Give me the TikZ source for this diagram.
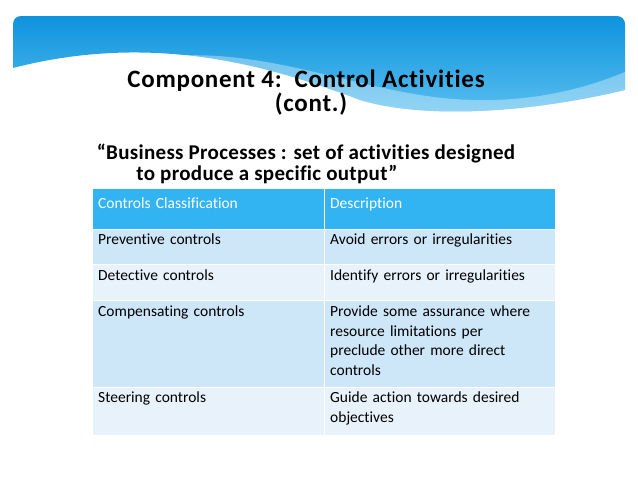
\documentclass[tikz,border=0pt]{standalone}
\usepackage{fontspec}
\setmainfont[Ligatures=NoCommon]{Carlito}
\begin{document}
\begin{tikzpicture}[x=1pt,y=-1pt,
  hdr/.style={fill=hdrblue,draw=white,line width=1pt},
  rowA/.style={fill=rowdark,draw=white,line width=1pt},
  rowB/.style={fill=rowlight,draw=white,line width=1pt},
  cell/.style={anchor=north west,align=left,text width=222pt,font=\fontsize{15.5}{19.5}\selectfont,inner sep=0pt}]
\definecolor{hdrblue}{HTML}{33B4F2}
\definecolor{rowdark}{HTML}{CDE6F8}
\definecolor{rowlight}{HTML}{E7F2FB}
\definecolor{bandtop}{HTML}{0E93DD}
\definecolor{bandbot}{HTML}{5CC0F0}
\useasboundingbox (0,0) rectangle (638,479);
\fill[white] (0,0) rectangle (638,479);
% banner
\shade[top color=bandtop,bottom color=bandbot]
  (13,24) to[out=90,in=180] (21,16) -- (617,16) to[out=0,in=90] (625,24) -- (625,90)
  .. controls (520,115) and (420,118) .. (360,100)
  .. controls (280,70) and (160,30) .. (13,68) -- cycle;
\fill[white,opacity=0.35] (170,56) .. controls (260,50) and (330,80) .. (420,95)
  .. controls (500,108) and (570,95) .. (625,72) -- (625,90)
  .. controls (520,115) and (420,118) .. (360,100) .. controls (300,80) and (240,60) .. (170,56) -- cycle;
% titles
\node[font=\bfseries\fontsize{25}{28}\selectfont\addfontfeatures{LetterSpace=3}] (t1) at (306,81) {Component 4:\ \ Control Activities};
\node[font=\bfseries\fontsize{25}{28}\selectfont\addfontfeatures{LetterSpace=3}] (t2) at (311,104) {(cont.)};
\node[font=\bfseries\fontsize{21}{24}\selectfont\addfontfeatures{LetterSpace=1.5}] (s1) at (306,154) {“Business Processes : set of activities designed};
\node[font=\bfseries\fontsize{21}{24}\selectfont\addfontfeatures{LetterSpace=1.5}] (s2) at (267,175) {to produce a specific output”};
% table
\path[hdr] (92,188) rectangle (324,229); \path[hdr] (324,188) rectangle (555,229);
\path[rowA] (92,229) rectangle (324,264); \path[rowA] (324,229) rectangle (555,264);
\path[rowB] (92,264) rectangle (324,300); \path[rowB] (324,264) rectangle (555,300);
\path[rowA] (92,300) rectangle (324,387); \path[rowA] (324,300) rectangle (555,387);
\path[rowB] (92,387) rectangle (324,435); \path[rowB] (324,387) rectangle (555,435);
\node[cell,text=white] (h1) at (98,198) {Controls Classification};
\node[cell,text=white] (h2) at (330,198) {Description};
\node[cell] (a1) at (98,234) {Preventive controls};
\node[cell] (a2) at (330,234) {Avoid errors or irregularities};
\node[cell] (b1) at (98,270) {Detective controls};
\node[cell] (b2) at (330,270) {Identify errors or irregularities};
\node[cell] (c1) at (98,306) {Compensating controls};
\node[cell] (c2) at (330,306) {Provide some assurance where\\resource limitations per\\preclude other more direct\\controls};
\node[cell] (d1) at (98,392) {Steering controls};
\node[cell] (d2) at (330,392) {Guide action towards desired\\objectives};
\end{tikzpicture}
\end{document}
